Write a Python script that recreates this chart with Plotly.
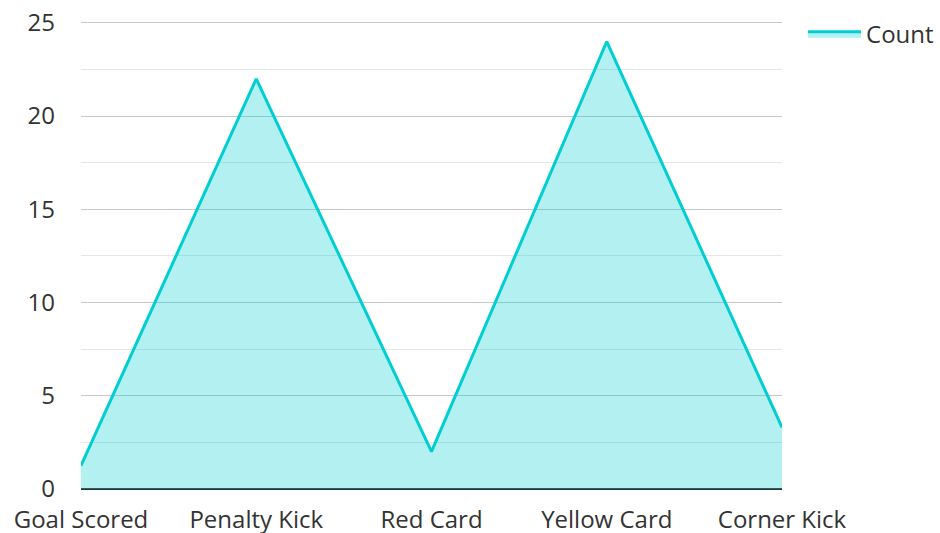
import plotly.graph_objects as go

categories = ["Goal Scored", "Penalty Kick", "Red Card", "Yellow Card", "Corner Kick"]
counts = [1.25, 22, 2, 24, 3.3]
series_name = "Count"
y_ticks = [0, 5, 10, 15, 20, 25]

fig = go.Figure()
fig.add_trace(go.Scatter(
    x=categories, y=counts, name=series_name, mode="lines",
    line=dict(color="#00CED1", width=3),
    fill="tozeroy", fillcolor="rgba(0,206,209,0.3)",
    showlegend=True,
))

font_family = "Open Sans"
fs = 24
fig.update_layout(
    width=940, height=533,
    margin=dict(l=81, r=158, t=21, b=44, autoexpand=False),
    paper_bgcolor="white", plot_bgcolor="white",
    font=dict(family=font_family, size=fs, color="#333333"),
    showlegend=True,
    legend=dict(x=1.03, y=1.02, xanchor="left", yanchor="top", itemwidth=53,
                font=dict(size=fs, color="#333333"), bgcolor="rgba(0,0,0,0)"),
    xaxis=dict(range=[0, 4], showgrid=False, showline=False, zeroline=False,
               ticks="", ticklabelstandoff=14, automargin=False,
               tickfont=dict(size=fs, color="#333333")),
    yaxis=dict(range=[0, 25.1], tickmode="array", tickvals=y_ticks,
               showgrid=True, gridcolor="#c8c8c8",
               gridwidth=1, zeroline=True, zerolinecolor="#333333", zerolinewidth=2,
               showline=False, ticks="", ticklabelstandoff=25, automargin=False,
               tickfont=dict(size=fs, color="#333333"),
               minor=dict(dtick=2.5, tick0=0, showgrid=True, gridcolor="#e6e6e6", gridwidth=1)),
)

fig.write_html("out.html", config={"displayModeBar": False},
               post_script="document.body.style.margin='0';")
